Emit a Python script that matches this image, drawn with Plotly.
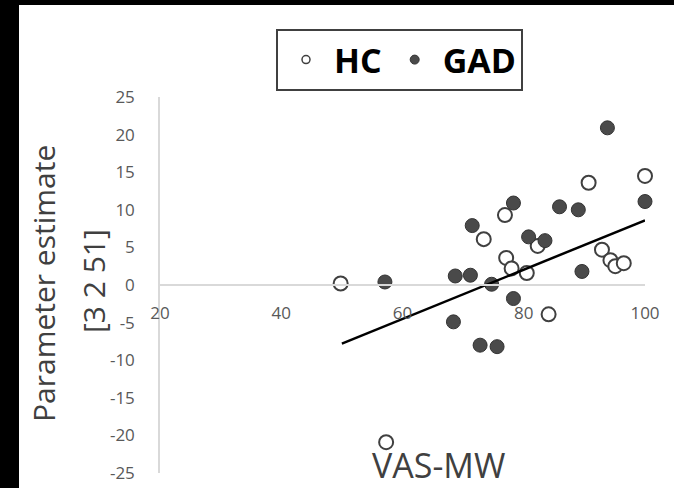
import plotly.graph_objects as go

# Data
hc_x = [49.8, 90.7, 100.0, 76.9, 73.4, 77.1, 78.0, 80.5, 82.3, 84.1, 92.9, 94.3, 95.1, 96.5, 57.3]
hc_y = [0.2, 13.6, 14.5, 9.3, 6.1, 3.6, 2.2, 1.6, 5.2, -3.9, 4.7, 3.3, 2.5, 2.9, -20.9]

gad_x = [57.1, 68.7, 71.2, 71.5, 78.3, 74.7, 78.3, 68.4, 72.8, 75.6, 80.8, 83.5, 85.9, 89.0, 89.6, 100.0, 93.8]
gad_y = [0.4, 1.2, 1.3, 7.9, 10.9, 0.1, -1.8, -4.9, -8.0, -8.2, 6.4, 5.9, 10.4, 10.0, 1.8, 11.1, 20.9]

trend_x = [50, 100]
trend_y = [-7.8, 8.6]

x_ticks = [20, 40, 60, 80, 100]
y_ticks = [25, 20, 15, 10, 5, 0, -5, -10, -15, -20, -25]

W, H = 674, 488
ML, MR, MT, MB = 160, 29, 97, 15
PW = W - ML - MR
PH = H - MT - MB


def px_x(p):
    return (p - ML) / PW


def px_y(p):
    return (H - MB - p) / PH


fig = go.Figure()

open_marker = dict(symbol="circle", color="white", size=14, line=dict(color="#404040", width=2))
fill_marker = dict(symbol="circle", color="#4a4a4a", size=14, line=dict(color="#333333", width=1))

fig.add_trace(go.Scatter(x=hc_x, y=hc_y, mode="markers", marker=open_marker,
                         showlegend=False, cliponaxis=False, name="HC"))
fig.add_trace(go.Scatter(x=gad_x, y=gad_y, mode="markers", marker=fill_marker,
                         showlegend=False, cliponaxis=False, name="GAD"))
fig.add_trace(go.Scatter(x=trend_x, y=trend_y, mode="lines",
                         line=dict(color="black", width=2.5), showlegend=False, cliponaxis=False))

# legend entries with smaller markers
fig.add_trace(go.Scatter(x=[None], y=[None], mode="markers", name="HC",
                         marker=dict(symbol="circle", color="white", size=8,
                                     line=dict(color="#404040", width=1.5))))
fig.add_trace(go.Scatter(x=[None], y=[None], mode="markers", name="GAD",
                         marker=dict(symbol="circle", color="#4a4a4a", size=9,
                                     line=dict(color="#333333", width=1))))

fig.update_layout(
    width=W, height=H,
    margin=dict(l=ML, r=MR, t=MT, b=MB, autoexpand=False),
    paper_bgcolor="white", plot_bgcolor="white",
    font=dict(family="Open Sans", color="#595959"),
    legend=dict(orientation="h", x=px_x(276), y=px_y(29), xanchor="left", yanchor="top",
                bordercolor="#404040", borderwidth=2, bgcolor="white",
                font=dict(family="Open Sans", size=34, color="black", weight="bold"),
                itemsizing="trace", itemwidth=46),
    xaxis=dict(range=[20, 100], tickvals=x_ticks, ticktext=[str(v) for v in x_ticks],
               showgrid=False, zeroline=False, showline=True, linecolor="#d9d9d9", linewidth=1.5,
               anchor="free", position=0.5, ticks="", ticklabelstandoff=13, automargin=False,
               tickfont=dict(size=17, color="#595959", family="Open Sans")),
    yaxis=dict(range=[-25, 25], tickvals=y_ticks, ticktext=[str(v) for v in y_ticks],
               showgrid=False, zeroline=False, showline=True, linecolor="#d9d9d9", linewidth=1.5,
               ticks="", ticklabelstandoff=20, automargin=False,
               tickfont=dict(size=17, color="#595959", family="Open Sans")),
    annotations=[
        dict(text="Parameter estimate", x=px_x(43), y=px_y(284), xref="paper", yref="paper",
             showarrow=False, textangle=-90, xanchor="center", yanchor="middle",
             font=dict(family="Open Sans", size=30, color="#404040")),
        dict(text="[3 2 51]", x=px_x(93), y=px_y(281), xref="paper", yref="paper",
             showarrow=False, textangle=-90, xanchor="center", yanchor="middle",
             font=dict(family="Open Sans", size=30, color="#404040")),
        dict(text="VAS-MW", x=px_x(438), y=px_y(465), xref="paper", yref="paper",
             showarrow=False, xanchor="center", yanchor="middle",
             font=dict(family="Open Sans", size=34, color="#404040")),
    ],
    shapes=[
        dict(type="rect", xref="paper", yref="paper", x0=px_x(-5), x1=px_x(19), y0=px_y(H + 5), y1=px_y(-5),
             fillcolor="black", line=dict(width=0), layer="above"),
        dict(type="rect", xref="paper", yref="paper", x0=px_x(-5), x1=px_x(W + 5), y0=px_y(5), y1=px_y(-5),
             fillcolor="black", line=dict(width=0), layer="above"),
    ],
)

fig.write_html("out.html")
